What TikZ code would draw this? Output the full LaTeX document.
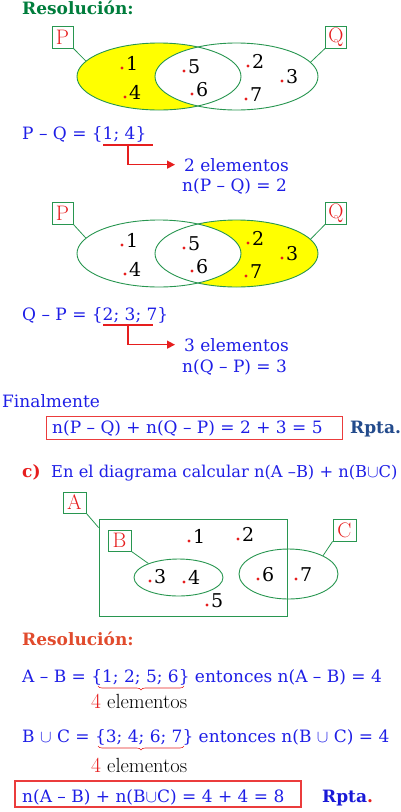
\documentclass[tikz,border=0pt]{standalone}
\usepackage{fontspec}
\newfontfamily\dvs{DejaVu Serif}
\usetikzlibrary{shapes.geometric,arrows.meta,decorations.pathreplacing,calc}
\definecolor{gline}{RGB}{40,150,80}
\definecolor{hgreen}{RGB}{0,125,60}
\definecolor{tblue}{RGB}{30,30,230}
\definecolor{dred}{RGB}{230,30,30}
\definecolor{hred}{RGB}{225,75,45}
\definecolor{boxred}{RGB}{235,60,60}
\definecolor{rptaA}{RGB}{35,75,140}
\definecolor{rptaB}{RGB}{25,25,215}
\definecolor{vyellow}{RGB}{255,255,0}
\newcommand\elm[4]{%
  \fill[dred] (#2,#3) circle (1.6pt);
  \node[num] (#1) at (#2+4,#3+2.5) {#4};}
\begin{document}
\begin{tikzpicture}[x=1pt,y=-1pt,
  every node/.style={inner sep=0pt, font=\dvs\fontsize{17}{21}\selectfont},
  txt/.style={anchor=base west, text=tblue},
  head/.style={anchor=base west, font=\dvs\bfseries\fontsize{17}{21}\selectfont},
  num/.style={anchor=base west, font=\dvs\fontsize{19}{23}\selectfont},
  lbl/.style={draw=gline, fill=white, text=dred, minimum width=21pt, minimum height=22pt, line width=0.8pt, font=\rmfamily\fontsize{21}{24}\selectfont},
  venn/.style={ellipse, draw=gline, line width=0.9pt, minimum width=164pt, minimum height=67pt},
  conn/.style={draw=gline, line width=0.8pt},
  redline/.style={draw=dred, line width=1.3pt},
  redarrow/.style={draw=dred, line width=1.3pt, -{Triangle[length=8pt,width=8pt]}, shorten >=9pt},
  eqbox/.style={draw=boxred, line width=1pt},
  redbrace/.style={draw=dred, line width=0.6pt, decorate, decoration={brace, mirror, amplitude=4pt}},
  lmtxt/.style={anchor=base west, font=\rmfamily\fontsize{20.5}{24}\selectfont},
]
\useasboundingbox (0,0) rectangle (400,812);

% ---------- Diagram 1 ----------
\node[head, text=hgreen] (res1) at (22,14) {Resolución:};
\fill[vyellow] (159,76.5) ellipse [x radius=82pt, y radius=33.5pt];
\fill[white] (236.5,76.5) ellipse [x radius=81.5pt, y radius=33.5pt];
\node[venn] (PE1) at (159,76.5) {};
\node[venn, minimum width=163pt] (QE1) at (236.5,76.5) {};
\node[lbl] (Pl1) at (62.5,37) {P};
\node[lbl] (Ql1) at (336,37) {Q};
\draw[conn] (Pl1.south east) -- (PE1.168);
\draw[conn] (Ql1.south west) -- (QE1.11);
\elm{a1}{122}{68}{1}
\elm{a4}{125}{97}{4}
\elm{a5}{184}{71}{5}
\elm{a6}{192}{94}{6}
\elm{a2}{248}{66}{2}
\elm{a3}{282}{81}{3}
\elm{a7}{246}{99}{7}

\node[txt] (pq) at (22,139) {P – Q = \{1; 4\}};
\coordinate (u1l) at (103,145);
\coordinate (u1r) at (153,145);
\coordinate (u1m) at (128,145);
\node[txt] (el1) at (184,171) {2 elementos};
\node[txt] (npq) at (182,191) {n(P – Q) = 2};
\draw[redline] (u1l) -- (u1r);
\draw[redarrow] (u1m) |- (el1.west);

% ---------- Diagram 2 ----------
\fill[vyellow] (236.5,253.5) ellipse [x radius=81.5pt, y radius=33.5pt];
\fill[white] (159,253.5) ellipse [x radius=82pt, y radius=33.5pt];
\node[venn] (PE2) at (159,253.5) {};
\node[venn, minimum width=163pt] (QE2) at (236.5,253.5) {};
\node[lbl] (Pl2) at (62.5,213) {P};
\node[lbl] (Ql2) at (336,213) {Q};
\draw[conn] (Pl2.south east) -- (PE2.168);
\draw[conn] (Ql2.south west) -- (QE2.11);
\elm{b1}{122}{245}{1}
\elm{b4}{125}{274}{4}
\elm{b5}{184}{248}{5}
\elm{b6}{192}{271}{6}
\elm{b2}{248}{243}{2}
\elm{b3}{282}{258}{3}
\elm{b7}{246}{276}{7}

\node[txt] (qp) at (22,320) {Q – P = \{2; 3; 7\}};
\coordinate (u2l) at (103,325);
\coordinate (u2r) at (153,325);
\coordinate (u2m) at (128,325);
\node[txt] (el2) at (184,351) {3 elementos};
\node[txt] (nqp) at (182,372) {n(Q – P) = 3};
\draw[redline] (u2l) -- (u2r);
\draw[redarrow] (u2m) |- (el2.west);

% ---------- Finalmente ----------
\node[txt] (fin) at (2,407) {Finalmente};
\node[eqbox, minimum width=296pt, minimum height=23pt] (box1) at (194,427.5) {};
\node[txt] (eq1) at (52,433) {n(P – Q) + n(Q – P) = 2 + 3 = 5};
\node[head, text=rptaA] (rp1) at (350,433) {Rpta.};

% ---------- Part c ----------
\node[head, text=dred] (cc) at (22,477) {c)};
\node[txt, font=\dvs\fontsize{16.3}{21}\selectfont] (enun) at (51,477) {En el diagrama calcular n(A –B) + n(B$\cup$C)};

\node[draw=gline, line width=0.8pt, minimum width=188pt, minimum height=97pt] (Ar) at (193,567.5) {};
\node[lbl, minimum width=23pt, minimum height=21pt] (Al) at (74.5,502.5) {A};
\draw[conn] (Al.south east) -- ($(Ar.north west)+(0,9)$);
\node[venn, minimum width=89pt, minimum height=37pt] (BE) at (178.5,577.5) {};
\node[lbl, minimum width=23pt, minimum height=21pt] (Bl) at (119.5,540.5) {B};
\draw[conn] (Bl.south east) -- (BE.155);
\node[venn, minimum width=99pt, minimum height=50pt] (CE) at (288.5,574) {};
\node[lbl, minimum width=23pt, minimum height=22pt] (Cl) at (344.5,530) {C};
\draw[conn] (Cl.south west) -- (CE.28);
\elm{c1}{189}{541}{1}
\elm{c2}{238}{539}{2}
\elm{c3}{150}{581}{3}
\elm{c4}{184}{582}{4}
\elm{c6}{258}{579}{6}
\elm{c7}{296}{579}{7}
\elm{c5}{207}{605}{5}

% ---------- Resolución 2 ----------
\node[head, text=hred] (res2) at (22,645) {Resolución:};
\node[txt] (amb) at (22,682) {A – B = \{1; 2; 5; 6\} entonces n(A – B) = 4};
\coordinate (br1l) at (98,686);
\coordinate (br1r) at (184,686);
\draw[redbrace] (br1l) -- (br1r);
\node[lmtxt, text=dred, font=\rmfamily\fontsize{21.5}{24}\selectfont] (four1) at (91,708) {4};
\node[lmtxt, text=black] (ele1) at (107,708) {elementos};

\node[txt] (buc) at (22,742) {B $\cup$ C = \{3; 4; 6; 7\} entonces n(B $\cup$ C) = 4};
\coordinate (br2l) at (98,746);
\coordinate (br2r) at (184,746);
\draw[redbrace] (br2l) -- (br2r);
\node[lmtxt, text=dred, font=\rmfamily\fontsize{21.5}{24}\selectfont] (four2) at (91,772) {4};
\node[lmtxt, text=black] (ele2) at (107,772) {elementos};

\node[eqbox, line width=1.3pt, minimum width=286pt, minimum height=26pt] (box2) at (158,794) {};
\node[txt] (eq2) at (22,802) {n(A – B) + n(B$\cup$C) = 4 + 4 = 8};
\node[head, text=rptaB] (rp2) at (322,802) {Rpta\textcolor{dred}{.}};
\end{tikzpicture}
\end{document}
